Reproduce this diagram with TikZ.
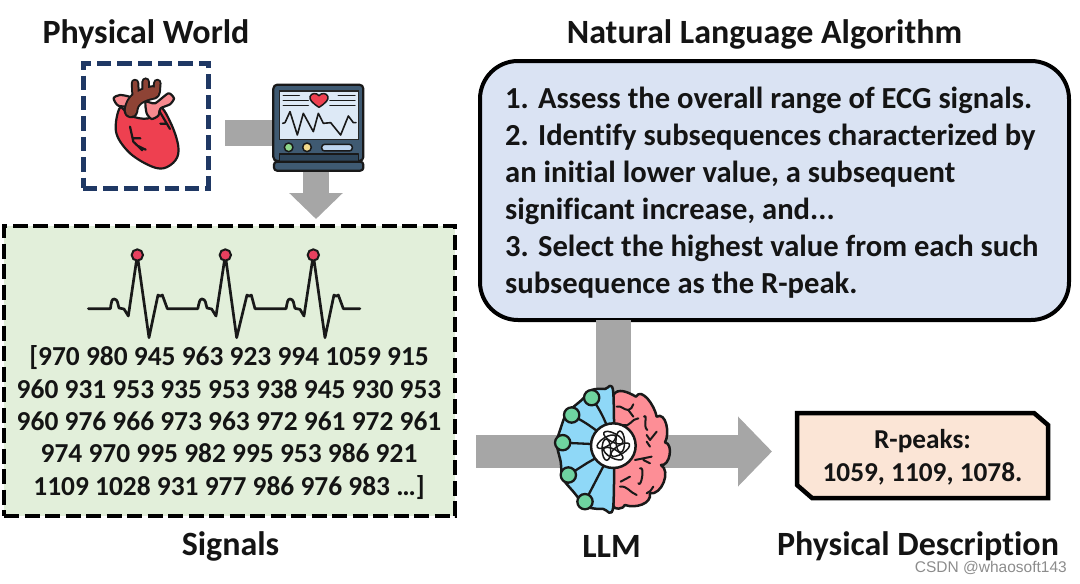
\documentclass[tikz,border=0pt]{standalone}
\usepackage{fontspec}
\setmainfont{Carlito}[Ligatures={NoCommon}]
\newfontfamily\markfont{Liberation Sans}
\usetikzlibrary{arrows.meta,shapes.geometric}
\definecolor{grayarrow}{HTML}{A6A6A6}
\definecolor{signalgreen}{HTML}{E2EFDA}
\definecolor{algoblue}{HTML}{DAE3F3}
\definecolor{peachbox}{HTML}{FBE5D6}
\definecolor{navyframe}{HTML}{1F3864}
\definecolor{heartred}{HTML}{EE4050}
\definecolor{heartpink}{HTML}{F88A8F}
\definecolor{heartbrown}{HTML}{8E4335}
\definecolor{monslate}{HTML}{3F5A72}
\definecolor{mondark}{HTML}{2F475C}
\definecolor{monscreen}{HTML}{DDE9F6}
\definecolor{monpill}{HTML}{BFD6F0}
\definecolor{mongreen}{HTML}{8FD88A}
\definecolor{monyellow}{HTML}{F3D98B}
\definecolor{brainblue}{HTML}{8FD8F7}
\definecolor{brainpink}{HTML}{FD8E96}
\definecolor{nodegreen}{HTML}{6FD3A0}
\definecolor{peakred}{HTML}{E8405F}
\tikzset{
  title/.style={font=\bfseries\fontsize{34}{38}\selectfont,inner sep=0pt,text=black!92},
  garrow/.style={draw=grayarrow,line cap=butt},
  icon/.style={draw=black!90,line width=2.2pt,line join=round,line cap=round},
  ecg/.style={draw=black!90,line width=2.7pt,line join=round,line cap=round},
  blank/.style={inner sep=0pt,outer sep=0pt},
}
\begin{document}
\begin{tikzpicture}[x=1pt,y=-1pt]
\useasboundingbox (0,0) rectangle (1080,584);
% boxes
\node[blank,minimum width=125pt,minimum height=125pt,draw=navyframe,line width=5pt,
      dash pattern=on 14.4pt off 6pt] (frame) at (145.5,125.5) {};
\node[blank,minimum width=91pt,minimum height=87pt] (monitor) at (318.5,127.5) {};
\node[blank,minimum width=451pt,minimum height=290pt,fill=signalgreen,draw=black,line width=4.5pt,
      dash pattern=on 15pt off 5.5pt] (signals) at (229.5,371) {};
\node[blank,minimum width=589pt,minimum height=259pt,fill=algoblue,draw=black,line width=4pt,
      rounded corners=38pt] (algo) at (774.5,190.5) {};
\node[blank,minimum width=112pt,minimum height=125pt] (llm) at (612,447.5) {};
\coordinate (a1) at (225,133);
\coordinate (a2) at (316,171);
\coordinate (a3) at (316,219);
% connectors
\draw[garrow,line width=26pt] (a1) -- (monitor.west |- a1);
\draw[garrow,line width=26pt,-{Triangle[width=52pt,length=26pt]}] (a2) -- (a3);
\draw[garrow,line width=35pt] (algo.south -| llm) ++(1.5,0) -- ([xshift=1.5pt]llm.center);
\draw[garrow,line width=33pt,shorten <=21pt] (signals.east |- 0,451.5) -- (llm.center |- 0,451.5);
\draw[garrow,line width=33pt,-{Triangle[width=68pt,length=34pt]},shorten >=25pt] (llm.center |- 0,451.5) -- (797,451.5);
% texts
\node[title] (t1) at (146,34) {Physical World};
\node[title] (t2) at (764.5,34) {Natural Language Algorithm};
\node[title] (t3) at (230.5,546) {Signals};
\node[title] (t4) at (611.5,546) {LLM};
\node[title] (t5) at (918,546) {Physical Description};
\node[anchor=west,align=left,inner sep=0pt,font=\bfseries\fontsize{30.6}{37}\selectfont,text=black!92] (algotext) at (505,193)
 {1. Assess the overall range of ECG signals.\\
  2. Identify subsequences characterized by\\
  an initial lower value, a subsequent\\
  significant increase, and...\\
  3. Select the highest value from each such\\
  subsequence as the R-peak.};
\node[align=center,inner sep=0pt,font=\bfseries\fontsize{27.4}{32.3}\selectfont,text=black!92] (sigtext) at (229,422.5)
 {[970 980 945 963 923 994 1059 915\\
  960 931 953 935 953 938 945 930 953\\
  960 976 966 973 963 972 961 972 961\\
  974 970 995 982 995 953 986 921\\
  1109 1028 931 977 986 976 983 …]};
% R-peaks box
\draw[fill=peachbox,draw=black,line width=4.5pt,line join=miter] (797,413) -- (1034,413) -- (1048,425) -- (1048,498) -- (812,498) -- (797,485) -- cycle;
\node[align=center,inner sep=0pt,font=\bfseries\fontsize{27.3}{33}\selectfont,text=black!92] (rtext) at (922.5,457.5) {R-peaks:\\1059, 1109, 1078.};
\node[anchor=east,inner sep=0pt,text=black!45,font=\markfont\fontsize{15.5}{18}\selectfont] (wm) at (1067,568) {CSDN @whaosoft143};
% ECG trace
\begin{scope}[shift={(70,230)},x=0.3333pt,y=-0.3333pt]
\draw[ecg] (55,236) -- (118,236) to[out=-60,in=180] (132,207) to[out=0,in=110] (147,234) -- (162,237) -- (175,258) -- (202,75) -- (237,323) -- (264,195) to[out=-70,in=-110] (277,195) -- (292,236) -- (380,236) to[out=-60,in=180] (396,207) to[out=0,in=110] (411,234) -- (425,237) -- (438,258) -- (466,75) -- (500,323) -- (531,195) to[out=-70,in=-110] (544,195) -- (555,236) -- (645,236) to[out=-60,in=180] (660,207) to[out=0,in=110] (675,235) -- (690,238) -- (702,258) -- (730,75) -- (765,323) -- (792,195) to[out=-70,in=-110] (805,195) -- (820,236) -- (870,236);
\foreach \px in {202,466,730}
  \draw[fill=peakred,draw=black!90,line width=2pt] (\px,75) circle (17);
\end{scope}
% heart
\begin{scope}[shift={(105,75)},x=0.3333pt,y=-0.3333pt]
\draw[icon,fill=heartred] plot[smooth cycle,tension=0.6] coordinates {(45,98) (75,122) (130,130) (165,95) (200,150) (220,215) (212,255) (175,280) (130,270) (70,230) (33,170)};
\draw[icon,fill=heartpink] plot[smooth cycle,tension=0.5] coordinates {(26,70) (45,60) (78,68) (72,92) (40,92)};
\draw[icon,fill=heartpink] plot[smooth cycle,tension=0.4] coordinates {(122,80) (150,85) (190,55) (207,70) (195,88) (167,100) (160,122) (140,132) (125,115)};
% aorta: outline stroke, then colour stroke
\draw[line width=8.5pt,line cap=round,draw=black!90] (92,60) -- (90,24) (122,55) -- (122,20) (155,50) -- (157,24);
\draw[line width=14.5pt,line cap=round,line join=round,draw=black!90] (78,108) .. controls (80,75) and (105,60) .. (145,52);
\draw[line width=4.5pt,line cap=round,draw=heartbrown] (92,60) -- (90,24) (122,55) -- (122,20) (155,50) -- (157,24);
\draw[line width=10.5pt,line cap=round,line join=round,draw=heartbrown] (78,108) .. controls (80,75) and (105,60) .. (145,52);
\draw[icon] (75,155) -- (85,200) -- (112,226) (85,190) -- (106,190) (97,212) -- (122,224);
\draw[icon] (163,108) -- (195,162) (166,146) -- (186,146);
\end{scope}
% monitor
\begin{scope}[shift={(270,80)},x=0.3333pt,y=-0.3333pt]
\draw[icon,fill=monslate,rounded corners=4pt] (10,14) rectangle (280,243);
\draw[icon,fill=mondark,line width=1.2pt] (28,222) rectangle (265,245);
\draw[icon,fill=monslate,rounded corners=3pt] (12,245) rectangle (280,272);
\draw[fill=monscreen,draw=black!85,line width=1.2pt] (28,33) rectangle (265,178);
\draw[icon,line width=1.5pt] (40,47) -- (88,47) (40,62) -- (115,62) (40,77) -- (115,77) (205,47) -- (255,47) (180,62) -- (255,62) (180,77) -- (255,77);
\draw[icon,fill=heartred,line width=1.5pt] (147,82) .. controls (125,68) and (118,58) .. (120,50) .. controls (124,38) and (140,38) .. (147,47) .. controls (154,38) and (170,38) .. (174,50) .. controls (176,58) and (169,68) .. (147,82) -- cycle;
\draw[icon,line width=1.6pt] (38,130) -- (45,128) -- (60,95) -- (82,165) -- (100,100) -- (130,155) -- (145,100) -- (160,130) -- (182,128) -- (212,165) -- (235,108) -- (250,128) -- (258,128);
\draw[icon,fill=mongreen,line width=1.5pt] (56,202) circle (13);
\draw[icon,fill=monyellow,line width=1.5pt] (111,202) circle (13);
\draw[icon,fill=monpill,line width=1.5pt,rounded corners=3pt] (155,193) rectangle (247,213);
\end{scope}
% brain
\begin{scope}[shift={(550,385)},x=0.3333pt,y=-0.3333pt]
\draw[icon,fill=brainpink,line width=2.5pt] (190,30) to[out=60,in=150] (258,35) to[out=60,in=100] (320,95) to[out=30,in=60] (345,172) to[out=-10,in=-10] (333,240) to[out=-30,in=-10] (300,325) to[out=-80,in=-20] (225,360) to[out=-110,in=-90] (190,362) -- cycle;
\draw[icon,fill=brainblue,line width=2.5pt] plot[smooth cycle,tension=0.45] coordinates {(190,25) (165,12) (125,15) (95,45) (50,85) (32,130) (20,175) (32,230) (38,280) (70,320) (110,365) (160,372) (190,362)};
% left wiring
\draw[icon,line width=2.3pt] (125,38) to[bend left=10] (188,180) (65,90) to[bend left=8] (188,180) (38,173) -- (188,180) (55,270) -- (110,235) -- (188,190) (105,350) -- (188,190);
\foreach \nx/\ny in {125/38,65/90,38/173,55/270,105/350}
  \draw[icon,fill=nodegreen,line width=2.3pt] (\nx,\ny) circle (23);
% right folds
\draw[icon,line width=2pt] (200,65) to[out=20,in=180] (235,75) to[out=0,in=-120] (250,58) (235,75) -- (250,95);
\draw[icon,line width=2pt] (220,120) to[out=-30,in=180] (265,100);
\draw[icon,line width=2pt] (282,95) to[out=40,in=150] (292,135) (300,165) -- (320,140) (300,165) -- (290,150);
\draw[icon,line width=2pt] (255,225) -- (305,215) (290,170) -- (300,185) (280,225) -- (300,235);
\draw[icon,line width=2pt] (270,250) to[out=30,in=-60] (265,295) (210,305) to[out=10,in=160] (260,330) (290,325) to[out=10,in=-130] (310,305);
\draw[icon,line width=2pt] (212,290) -- (240,275);
% logo disc
\draw[icon,fill=white,line width=2.5pt] (190,182) circle (67);
\foreach \ang in {0,60,...,300}
  \draw[icon,line width=1.5pt,rotate around={\ang:(190,182)}]
    (190,158) ellipse [x radius=32,y radius=13,rotate=-28];
\end{scope}
\end{tikzpicture}
\end{document}
